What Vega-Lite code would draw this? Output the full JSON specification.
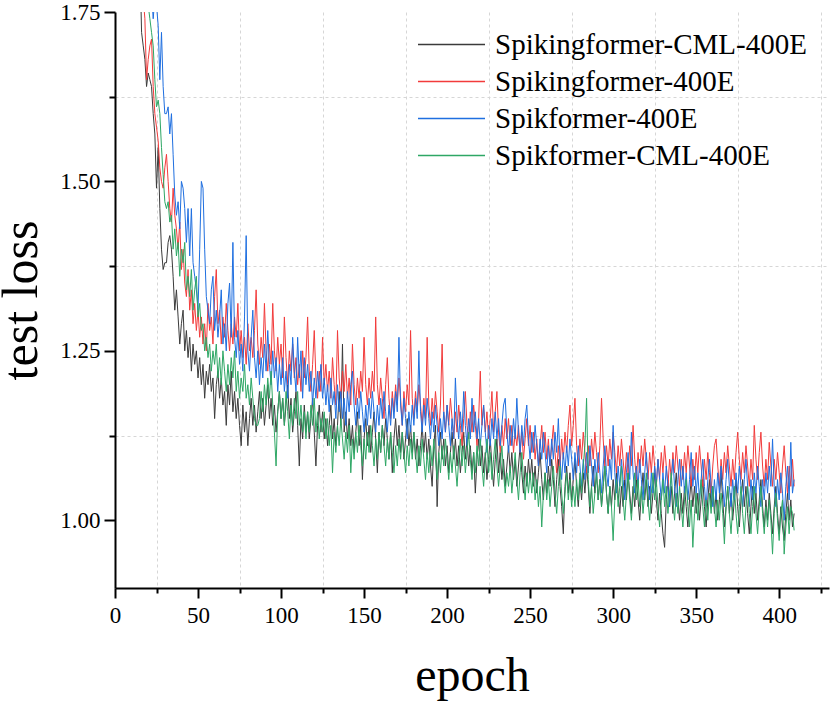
{
"$schema":"https://vega.github.io/schema/vega-lite/v6.json",
"width":714,"height":576,
"autosize":{"type":"none"},
"padding":{"left":115,"top":12,"right":4,"bottom":115},
"background":"white",
"config":{"view":{"stroke":null},"font":"Liberation Serif",
"axis":{"labelFont":"Liberation Serif","labelFontSize":23,"labelColor":"black","titleFont":"Liberation Serif","titleFontWeight":"normal","titleColor":"black"},
"legend":{"labelFont":"Liberation Serif","labelFontSize":29,"labelColor":"black"}},
"datasets":{"names":[{"key":"k","name":"Spikingformer-CML-400E"},{"key":"r","name":"Spikingformer-400E"},{"key":"b","name":"Spikformer-400E"},{"key":"g","name":"Spikformer-CML-400E"}]},
"data":{"values":[
{"e":12,"k":1.95,"r":2.0,"b":2.05,"g":2.0},
{"e":13,"k":1.9,"r":1.95,"b":2.0,"g":1.96},
{"e":14,"k":1.88,"r":1.9,"b":1.98,"g":1.93},
{"e":15,"k":1.83,"r":1.88,"b":1.95,"g":1.9},
{"e":16,"k":1.72,"r":1.8,"b":1.92,"g":1.86},
{"e":17,"k":1.7,"r":1.77,"b":1.9,"g":1.83},
{"e":18,"k":1.68,"r":1.74,"b":1.88,"g":1.8},
{"e":19,"k":1.64,"r":1.65,"b":1.85,"g":1.78},
{"e":20,"k":1.66,"r":1.68,"b":1.8,"g":1.76},
{"e":21,"k":1.65,"r":1.7,"b":1.76,"g":1.74},
{"e":22,"k":1.64,"r":1.71,"b":1.78,"g":1.72},
{"e":23,"k":1.6,"r":1.64,"b":1.74,"g":1.7},
{"e":24,"k":1.57,"r":1.6,"b":1.77,"g":1.65},
{"e":25,"k":1.49,"r":1.58,"b":1.76,"g":1.61},
{"e":26,"k":1.55,"r":1.56,"b":1.73,"g":1.62},
{"e":27,"k":1.46,"r":1.52,"b":1.65,"g":1.6},
{"e":28,"k":1.4,"r":1.5,"b":1.72,"g":1.55},
{"e":29,"k":1.37,"r":1.49,"b":1.64,"g":1.51},
{"e":30,"k":1.38,"r":1.52,"b":1.6,"g":1.47},
{"e":31,"k":1.38,"r":1.54,"b":1.6,"g":1.46},
{"e":32,"k":1.41,"r":1.5,"b":1.61,"g":1.47},
{"e":33,"k":1.42,"r":1.46,"b":1.57,"g":1.44},
{"e":34,"k":1.4,"r":1.44,"b":1.6,"g":1.45},
{"e":35,"k":1.36,"r":1.49,"b":1.54,"g":1.4},
{"e":36,"k":1.31,"r":1.45,"b":1.48,"g":1.43},
{"e":37,"k":1.34,"r":1.43,"b":1.45,"g":1.39},
{"e":38,"k":1.3,"r":1.4,"b":1.47,"g":1.41},
{"e":39,"k":1.26,"r":1.44,"b":1.43,"g":1.36},
{"e":40,"k":1.29,"r":1.37,"b":1.5,"g":1.4},
{"e":41,"k":1.31,"r":1.4,"b":1.49,"g":1.38},
{"e":42,"k":1.25,"r":1.35,"b":1.46,"g":1.41},
{"e":43,"k":1.28,"r":1.33,"b":1.41,"g":1.34},
{"e":44,"k":1.24,"r":1.37,"b":1.46,"g":1.36},
{"e":45,"k":1.27,"r":1.31,"b":1.39,"g":1.33},
{"e":46,"k":1.22,"r":1.34,"b":1.46,"g":1.37},
{"e":47,"k":1.26,"r":1.29,"b":1.38,"g":1.31},
{"e":48,"k":1.23,"r":1.32,"b":1.36,"g":1.34},
{"e":49,"k":1.25,"r":1.28,"b":1.34,"g":1.36},
{"e":50,"k":1.21,"r":1.31,"b":1.31,"g":1.3},
{"e":51,"k":1.24,"r":1.27,"b":1.4,"g":1.32},
{"e":52,"k":1.2,"r":1.3,"b":1.5,"g":1.28},
{"e":53,"k":1.23,"r":1.26,"b":1.49,"g":1.29},
{"e":54,"k":1.18,"r":1.29,"b":1.4,"g":1.25},
{"e":55,"k":1.22,"r":1.25,"b":1.33,"g":1.27},
{"e":56,"k":1.2,"r":1.32,"b":1.31,"g":1.24},
{"e":57,"k":1.23,"r":1.28,"b":1.29,"g":1.26},
{"e":58,"k":1.19,"r":1.3,"b":1.34,"g":1.22},
{"e":59,"k":1.21,"r":1.26,"b":1.36,"g":1.25},
{"e":60,"k":1.15,"r":1.33,"b":1.28,"g":1.23},
{"e":61,"k":1.2,"r":1.37,"b":1.31,"g":1.26},
{"e":62,"k":1.22,"r":1.29,"b":1.27,"g":1.21},
{"e":63,"k":1.18,"r":1.31,"b":1.3,"g":1.24},
{"e":64,"k":1.21,"r":1.26,"b":1.34,"g":1.2},
{"e":65,"k":1.17,"r":1.3,"b":1.26,"g":1.25},
{"e":66,"k":1.19,"r":1.27,"b":1.29,"g":1.22},
{"e":67,"k":1.14,"r":1.32,"b":1.25,"g":1.19},
{"e":68,"k":1.2,"r":1.28,"b":1.32,"g":1.23},
{"e":69,"k":1.17,"r":1.25,"b":1.35,"g":1.2},
{"e":70,"k":1.22,"r":1.29,"b":1.27,"g":1.24},
{"e":71,"k":1.16,"r":1.26,"b":1.41,"g":1.21},
{"e":72,"k":1.19,"r":1.3,"b":1.27,"g":1.25},
{"e":73,"k":1.15,"r":1.27,"b":1.24,"g":1.19},
{"e":74,"k":1.18,"r":1.32,"b":1.28,"g":1.22},
{"e":75,"k":1.14,"r":1.25,"b":1.23,"g":1.18},
{"e":76,"k":1.11,"r":1.28,"b":1.26,"g":1.21},
{"e":77,"k":1.17,"r":1.24,"b":1.22,"g":1.19},
{"e":78,"k":1.13,"r":1.27,"b":1.3,"g":1.23},
{"e":79,"k":1.16,"r":1.23,"b":1.42,"g":1.18},
{"e":80,"k":1.11,"r":1.29,"b":1.25,"g":1.2},
{"e":81,"k":1.15,"r":1.25,"b":1.22,"g":1.17},
{"e":82,"k":1.18,"r":1.27,"b":1.27,"g":1.21},
{"e":83,"k":1.14,"r":1.24,"b":1.31,"g":1.18},
{"e":84,"k":1.17,"r":1.28,"b":1.24,"g":1.15},
{"e":85,"k":1.13,"r":1.34,"b":1.21,"g":1.14},
{"e":86,"k":1.16,"r":1.26,"b":1.25,"g":1.14},
{"e":87,"k":1.19,"r":1.23,"b":1.2,"g":1.15},
{"e":88,"k":1.15,"r":1.27,"b":1.24,"g":1.19},
{"e":89,"k":1.18,"r":1.24,"b":1.21,"g":1.16},
{"e":90,"k":1.14,"r":1.32,"b":1.26,"g":1.2},
{"e":91,"k":1.17,"r":1.25,"b":1.22,"g":1.17},
{"e":92,"k":1.2,"r":1.22,"b":1.28,"g":1.21},
{"e":93,"k":1.15,"r":1.26,"b":1.23,"g":1.18},
{"e":94,"k":1.18,"r":1.23,"b":1.2,"g":1.22},
{"e":95,"k":1.14,"r":1.32,"b":1.25,"g":1.17},
{"e":96,"k":1.17,"r":1.25,"b":1.21,"g":1.13},
{"e":97,"k":1.13,"r":1.22,"b":1.24,"g":1.08},
{"e":98,"k":1.16,"r":1.27,"b":1.19,"g":1.16},
{"e":99,"k":1.19,"r":1.23,"b":1.23,"g":1.19},
{"e":100,"k":1.15,"r":1.26,"b":1.2,"g":1.15},
{"e":101,"k":1.18,"r":1.21,"b":1.24,"g":1.18},
{"e":102,"k":1.14,"r":1.3,"b":1.19,"g":1.14},
{"e":103,"k":1.17,"r":1.24,"b":1.22,"g":1.19},
{"e":104,"k":1.2,"r":1.2,"b":1.18,"g":1.16},
{"e":105,"k":1.15,"r":1.25,"b":1.23,"g":1.12},
{"e":106,"k":1.18,"r":1.22,"b":1.2,"g":1.17},
{"e":107,"k":1.13,"r":1.26,"b":1.27,"g":1.14},
{"e":108,"k":1.16,"r":1.21,"b":1.22,"g":1.18},
{"e":109,"k":1.19,"r":1.24,"b":1.19,"g":1.15},
{"e":110,"k":1.14,"r":1.2,"b":1.27,"g":1.19},
{"e":111,"k":1.08,"r":1.23,"b":1.21,"g":1.14},
{"e":112,"k":1.15,"r":1.19,"b":1.25,"g":1.17},
{"e":113,"k":1.12,"r":1.25,"b":1.18,"g":1.13},
{"e":114,"k":1.17,"r":1.21,"b":1.24,"g":1.16},
{"e":115,"k":1.13,"r":1.24,"b":1.2,"g":1.12},
{"e":116,"k":1.16,"r":1.3,"b":1.23,"g":1.16},
{"e":117,"k":1.12,"r":1.22,"b":1.19,"g":1.13},
{"e":118,"k":1.15,"r":1.19,"b":1.22,"g":1.17},
{"e":119,"k":1.18,"r":1.23,"b":1.17,"g":1.14},
{"e":120,"k":1.13,"r":1.28,"b":1.21,"g":1.18},
{"e":121,"k":1.08,"r":1.21,"b":1.18,"g":1.13},
{"e":122,"k":1.14,"r":1.18,"b":1.22,"g":1.16},
{"e":123,"k":1.17,"r":1.22,"b":1.19,"g":1.12},
{"e":124,"k":1.13,"r":1.19,"b":1.23,"g":1.15},
{"e":125,"k":1.16,"r":1.27,"b":1.18,"g":1.13},
{"e":126,"k":1.12,"r":1.2,"b":1.21,"g":1.16},
{"e":127,"k":1.15,"r":1.23,"b":1.17,"g":1.12},
{"e":128,"k":1.11,"r":1.19,"b":1.2,"g":1.15},
{"e":129,"k":1.14,"r":1.22,"b":1.16,"g":1.11},
{"e":130,"k":1.17,"r":1.18,"b":1.21,"g":1.14},
{"e":131,"k":1.12,"r":1.24,"b":1.17,"g":1.07},
{"e":132,"k":1.15,"r":1.2,"b":1.19,"g":1.13},
{"e":133,"k":1.11,"r":1.17,"b":1.15,"g":1.1},
{"e":134,"k":1.14,"r":1.28,"b":1.2,"g":1.14},
{"e":135,"k":1.19,"r":1.21,"b":1.16,"g":1.11},
{"e":136,"k":1.14,"r":1.18,"b":1.19,"g":1.15},
{"e":137,"k":1.26,"r":1.22,"b":1.15,"g":1.12},
{"e":138,"k":1.13,"r":1.19,"b":1.18,"g":1.09},
{"e":139,"k":1.16,"r":1.23,"b":1.14,"g":1.13},
{"e":140,"k":1.12,"r":1.18,"b":1.19,"g":1.1},
{"e":141,"k":1.15,"r":1.21,"b":1.16,"g":1.14},
{"e":142,"k":1.11,"r":1.17,"b":1.2,"g":1.07},
{"e":143,"k":1.14,"r":1.26,"b":1.22,"g":1.12},
{"e":144,"k":1.1,"r":1.2,"b":1.17,"g":1.09},
{"e":145,"k":1.13,"r":1.17,"b":1.14,"g":1.13},
{"e":146,"k":1.16,"r":1.21,"b":1.18,"g":1.1},
{"e":147,"k":1.11,"r":1.18,"b":1.15,"g":1.14},
{"e":148,"k":1.14,"r":1.22,"b":1.19,"g":1.11},
{"e":149,"k":1.06,"r":1.19,"b":1.16,"g":1.08},
{"e":150,"k":1.12,"r":1.27,"b":1.13,"g":1.12},
{"e":151,"k":1.15,"r":1.2,"b":1.17,"g":1.09},
{"e":152,"k":1.11,"r":1.17,"b":1.14,"g":1.13},
{"e":153,"k":1.14,"r":1.21,"b":1.18,"g":1.1},
{"e":154,"k":1.1,"r":1.18,"b":1.15,"g":1.14},
{"e":155,"k":1.13,"r":1.22,"b":1.19,"g":1.11},
{"e":156,"k":1.16,"r":1.19,"b":1.16,"g":1.08},
{"e":157,"k":1.12,"r":1.3,"b":1.13,"g":1.12},
{"e":158,"k":1.07,"r":1.2,"b":1.17,"g":1.09},
{"e":159,"k":1.13,"r":1.17,"b":1.14,"g":1.13},
{"e":160,"k":1.1,"r":1.21,"b":1.18,"g":1.1},
{"e":161,"k":1.14,"r":1.18,"b":1.15,"g":1.14},
{"e":162,"k":1.11,"r":1.15,"b":1.19,"g":1.11},
{"e":163,"k":1.15,"r":1.2,"b":1.16,"g":1.08},
{"e":164,"k":1.12,"r":1.24,"b":1.13,"g":1.12},
{"e":165,"k":1.09,"r":1.18,"b":1.17,"g":1.09},
{"e":166,"k":1.13,"r":1.15,"b":1.14,"g":1.13},
{"e":167,"k":1.07,"r":1.19,"b":1.18,"g":1.1},
{"e":168,"k":1.12,"r":1.16,"b":1.15,"g":1.07},
{"e":169,"k":1.15,"r":1.2,"b":1.19,"g":1.11},
{"e":170,"k":1.11,"r":1.17,"b":1.16,"g":1.08},
{"e":171,"k":1.14,"r":1.21,"b":1.27,"g":1.12},
{"e":172,"k":1.1,"r":1.18,"b":1.17,"g":1.09},
{"e":173,"k":1.13,"r":1.14,"b":1.14,"g":1.13},
{"e":174,"k":1.09,"r":1.19,"b":1.18,"g":1.1},
{"e":175,"k":1.12,"r":1.16,"b":1.15,"g":1.07},
{"e":176,"k":1.15,"r":1.2,"b":1.12,"g":1.11},
{"e":177,"k":1.11,"r":1.17,"b":1.16,"g":1.08},
{"e":178,"k":1.14,"r":1.28,"b":1.13,"g":1.12},
{"e":179,"k":1.1,"r":1.18,"b":1.17,"g":1.09},
{"e":180,"k":1.13,"r":1.15,"b":1.14,"g":1.13},
{"e":181,"k":1.09,"r":1.19,"b":1.18,"g":1.1},
{"e":182,"k":1.12,"r":1.16,"b":1.15,"g":1.07},
{"e":183,"k":1.08,"r":1.2,"b":1.25,"g":1.11},
{"e":184,"k":1.11,"r":1.17,"b":1.16,"g":1.08},
{"e":185,"k":1.14,"r":1.14,"b":1.13,"g":1.12},
{"e":186,"k":1.1,"r":1.18,"b":1.17,"g":1.09},
{"e":187,"k":1.13,"r":1.15,"b":1.14,"g":1.06},
{"e":188,"k":1.09,"r":1.27,"b":1.18,"g":1.1},
{"e":189,"k":1.12,"r":1.17,"b":1.15,"g":1.07},
{"e":190,"k":1.08,"r":1.14,"b":1.12,"g":1.11},
{"e":191,"k":1.05,"r":1.18,"b":1.16,"g":1.08},
{"e":192,"k":1.11,"r":1.15,"b":1.13,"g":1.12},
{"e":193,"k":1.14,"r":1.19,"b":1.17,"g":1.09},
{"e":194,"k":1.02,"r":1.16,"b":1.14,"g":1.06},
{"e":195,"k":1.1,"r":1.13,"b":1.11,"g":1.1},
{"e":196,"k":1.13,"r":1.17,"b":1.15,"g":1.07},
{"e":197,"k":1.09,"r":1.26,"b":1.12,"g":1.11},
{"e":198,"k":1.12,"r":1.16,"b":1.16,"g":1.08},
{"e":199,"k":1.08,"r":1.13,"b":1.13,"g":1.12},
{"e":200,"k":1.11,"r":1.17,"b":1.17,"g":1.09},
{"e":201,"k":1.07,"r":1.14,"b":1.14,"g":1.06},
{"e":202,"k":1.1,"r":1.18,"b":1.11,"g":1.1},
{"e":203,"k":1.13,"r":1.15,"b":1.15,"g":1.07},
{"e":204,"k":1.09,"r":1.12,"b":1.12,"g":1.11},
{"e":205,"k":1.12,"r":1.16,"b":1.21,"g":1.08},
{"e":206,"k":1.08,"r":1.13,"b":1.15,"g":1.05},
{"e":207,"k":1.11,"r":1.17,"b":1.12,"g":1.09},
{"e":208,"k":1.07,"r":1.14,"b":1.16,"g":1.12},
{"e":209,"k":1.1,"r":1.11,"b":1.13,"g":1.08},
{"e":210,"k":1.13,"r":1.15,"b":1.19,"g":1.11},
{"e":211,"k":1.09,"r":1.19,"b":1.14,"g":1.07},
{"e":212,"k":1.12,"r":1.14,"b":1.11,"g":1.1},
{"e":213,"k":1.08,"r":1.12,"b":1.15,"g":1.13},
{"e":214,"k":1.11,"r":1.16,"b":1.12,"g":1.09},
{"e":215,"k":1.07,"r":1.13,"b":1.18,"g":1.06},
{"e":216,"k":1.1,"r":1.17,"b":1.13,"g":1.1},
{"e":217,"k":1.04,"r":1.14,"b":1.16,"g":1.07},
{"e":218,"k":1.09,"r":1.11,"b":1.12,"g":1.11},
{"e":219,"k":1.12,"r":1.15,"b":1.15,"g":1.08},
{"e":220,"k":1.08,"r":1.22,"b":1.11,"g":1.12},
{"e":221,"k":1.11,"r":1.14,"b":1.14,"g":1.08},
{"e":222,"k":1.07,"r":1.17,"b":1.17,"g":1.05},
{"e":223,"k":1.1,"r":1.13,"b":1.13,"g":1.09},
{"e":224,"k":1.06,"r":1.16,"b":1.1,"g":1.12},
{"e":225,"k":1.09,"r":1.12,"b":1.14,"g":1.07},
{"e":226,"k":1.12,"r":1.15,"b":1.11,"g":1.1},
{"e":227,"k":1.08,"r":1.19,"b":1.15,"g":1.06},
{"e":228,"k":1.05,"r":1.13,"b":1.12,"g":1.09},
{"e":229,"k":1.09,"r":1.16,"b":1.16,"g":1.12},
{"e":230,"k":1.12,"r":1.19,"b":1.12,"g":1.08},
{"e":231,"k":1.07,"r":1.13,"b":1.15,"g":1.05},
{"e":232,"k":1.1,"r":1.1,"b":1.11,"g":1.08},
{"e":233,"k":1.06,"r":1.14,"b":1.14,"g":1.11},
{"e":234,"k":1.09,"r":1.11,"b":1.17,"g":1.07},
{"e":235,"k":1.05,"r":1.15,"b":1.18,"g":1.04},
{"e":236,"k":1.08,"r":1.12,"b":1.13,"g":1.07},
{"e":237,"k":1.11,"r":1.15,"b":1.1,"g":1.05},
{"e":238,"k":1.07,"r":1.11,"b":1.14,"g":1.08},
{"e":239,"k":1.1,"r":1.14,"b":1.11,"g":1.04},
{"e":240,"k":1.06,"r":1.1,"b":1.15,"g":1.07},
{"e":241,"k":1.09,"r":1.13,"b":1.12,"g":1.1},
{"e":242,"k":1.05,"r":1.11,"b":1.18,"g":1.06},
{"e":243,"k":1.08,"r":1.14,"b":1.13,"g":1.03},
{"e":244,"k":1.11,"r":1.1,"b":1.1,"g":1.07},
{"e":245,"k":1.07,"r":1.13,"b":1.14,"g":1.1},
{"e":246,"k":1.04,"r":1.09,"b":1.11,"g":1.06},
{"e":247,"k":1.08,"r":1.12,"b":1.15,"g":1.03},
{"e":248,"k":1.05,"r":1.15,"b":1.17,"g":1.07},
{"e":249,"k":1.09,"r":1.11,"b":1.12,"g":1.04},
{"e":250,"k":1.06,"r":1.14,"b":1.09,"g":1.07},
{"e":251,"k":1.09,"r":1.1,"b":1.13,"g":1.04},
{"e":252,"k":1.05,"r":1.13,"b":1.1,"g":1.07},
{"e":253,"k":1.08,"r":1.09,"b":1.14,"g":1.03},
{"e":254,"k":1.04,"r":1.12,"b":1.11,"g":1.06},
{"e":255,"k":1.07,"r":1.08,"b":1.08,"g":1.02},
{"e":256,"k":1.1,"r":1.11,"b":1.12,"g":1.05},
{"e":257,"k":1.06,"r":1.14,"b":1.09,"g":0.99},
{"e":258,"k":1.03,"r":1.1,"b":1.13,"g":1.04},
{"e":259,"k":1.07,"r":1.13,"b":1.1,"g":1.07},
{"e":260,"k":1.04,"r":1.09,"b":1.07,"g":1.03},
{"e":261,"k":1.08,"r":1.12,"b":1.11,"g":1.06},
{"e":262,"k":1.05,"r":1.08,"b":1.08,"g":1.02},
{"e":263,"k":1.09,"r":1.11,"b":1.12,"g":1.05},
{"e":264,"k":1.06,"r":1.14,"b":1.09,"g":1.08},
{"e":265,"k":1.02,"r":1.1,"b":1.13,"g":1.04},
{"e":266,"k":1.06,"r":1.07,"b":1.1,"g":1.01},
{"e":267,"k":1.09,"r":1.11,"b":1.15,"g":1.05},
{"e":268,"k":1.05,"r":1.08,"b":1.09,"g":1.08},
{"e":269,"k":1.02,"r":1.12,"b":1.06,"g":1.04},
{"e":270,"k":0.98,"r":1.09,"b":1.1,"g":1.01},
{"e":271,"k":1.05,"r":1.13,"b":1.07,"g":1.04},
{"e":272,"k":1.08,"r":1.1,"b":1.11,"g":1.07},
{"e":273,"k":1.04,"r":1.14,"b":1.08,"g":1.03},
{"e":274,"k":1.07,"r":1.17,"b":1.12,"g":1.06},
{"e":275,"k":1.03,"r":1.11,"b":1.09,"g":1.02},
{"e":276,"k":1.06,"r":1.14,"b":1.06,"g":1.05},
{"e":277,"k":1.09,"r":1.18,"b":1.1,"g":1.02},
{"e":278,"k":1.05,"r":1.11,"b":1.07,"g":1.06},
{"e":279,"k":1.02,"r":1.08,"b":1.11,"g":1.03},
{"e":280,"k":1.06,"r":1.12,"b":1.08,"g":1.07},
{"e":281,"k":1.03,"r":1.09,"b":1.05,"g":1.04},
{"e":282,"k":1.07,"r":1.13,"b":1.09,"g":1.08},
{"e":283,"k":1.04,"r":1.1,"b":1.06,"g":1.11},
{"e":284,"k":1.08,"r":1.07,"b":1.1,"g":1.18},
{"e":285,"k":1.05,"r":1.11,"b":1.07,"g":1.06},
{"e":286,"k":1.01,"r":1.08,"b":1.11,"g":1.02},
{"e":287,"k":1.05,"r":1.12,"b":1.08,"g":1.05},
{"e":288,"k":1.08,"r":1.09,"b":1.05,"g":1.01},
{"e":289,"k":1.04,"r":1.13,"b":1.09,"g":1.04},
{"e":290,"k":1.07,"r":1.1,"b":1.06,"g":1.07},
{"e":291,"k":1.03,"r":1.07,"b":1.1,"g":1.03},
{"e":292,"k":1.06,"r":1.11,"b":1.07,"g":1.06},
{"e":293,"k":1.02,"r":1.18,"b":1.04,"g":1.02},
{"e":294,"k":1.05,"r":1.12,"b":1.08,"g":1.05},
{"e":295,"k":1.08,"r":1.08,"b":1.11,"g":1.08},
{"e":296,"k":1.04,"r":1.11,"b":1.07,"g":1.04},
{"e":297,"k":1.01,"r":1.08,"b":1.05,"g":1.01},
{"e":298,"k":1.05,"r":1.12,"b":1.09,"g":1.05},
{"e":299,"k":1.02,"r":1.09,"b":1.06,"g":1.02},
{"e":300,"k":1.06,"r":1.13,"b":1.14,"g":0.97},
{"e":301,"k":1.03,"r":1.1,"b":1.07,"g":1.03},
{"e":302,"k":1.07,"r":1.07,"b":1.04,"g":1.06},
{"e":303,"k":1.04,"r":1.11,"b":1.08,"g":1.02},
{"e":304,"k":1.01,"r":1.08,"b":1.05,"g":1.05},
{"e":305,"k":1.05,"r":1.12,"b":1.09,"g":1.08},
{"e":306,"k":1.02,"r":1.09,"b":1.06,"g":1.03},
{"e":307,"k":1.06,"r":1.06,"b":1.03,"g":1.0},
{"e":308,"k":1.03,"r":1.1,"b":1.07,"g":1.04},
{"e":309,"k":1.07,"r":1.07,"b":1.1,"g":1.07},
{"e":310,"k":1.04,"r":1.11,"b":1.06,"g":1.03},
{"e":311,"k":1.01,"r":1.08,"b":1.13,"g":1.0},
{"e":312,"k":1.05,"r":1.14,"b":1.07,"g":1.04},
{"e":313,"k":1.02,"r":1.09,"b":1.04,"g":1.07},
{"e":314,"k":1.06,"r":1.06,"b":1.08,"g":1.03},
{"e":315,"k":1.03,"r":1.1,"b":1.05,"g":1.06},
{"e":316,"k":1.0,"r":1.07,"b":1.09,"g":1.02},
{"e":317,"k":1.04,"r":1.11,"b":1.06,"g":1.05},
{"e":318,"k":1.07,"r":1.08,"b":1.03,"g":1.01},
{"e":319,"k":1.03,"r":1.12,"b":1.07,"g":1.04},
{"e":320,"k":1.06,"r":1.09,"b":1.1,"g":1.07},
{"e":321,"k":1.02,"r":1.06,"b":1.06,"g":1.03},
{"e":322,"k":1.05,"r":1.1,"b":1.03,"g":1.0},
{"e":323,"k":1.01,"r":1.07,"b":1.07,"g":1.04},
{"e":324,"k":1.04,"r":1.11,"b":1.04,"g":1.07},
{"e":325,"k":1.07,"r":1.08,"b":1.08,"g":1.03},
{"e":326,"k":1.03,"r":1.05,"b":1.05,"g":1.06},
{"e":327,"k":1.0,"r":1.09,"b":1.09,"g":1.02},
{"e":328,"k":1.04,"r":1.06,"b":1.06,"g":0.99},
{"e":329,"k":1.01,"r":1.1,"b":1.03,"g":1.03},
{"e":330,"k":0.98,"r":1.07,"b":1.07,"g":1.06},
{"e":331,"k":0.96,"r":1.11,"b":1.04,"g":1.02},
{"e":332,"k":1.03,"r":1.08,"b":1.08,"g":1.05},
{"e":333,"k":1.06,"r":1.05,"b":1.05,"g":1.01},
{"e":334,"k":1.02,"r":1.09,"b":1.02,"g":1.04},
{"e":335,"k":1.05,"r":1.06,"b":1.06,"g":1.07},
{"e":336,"k":1.01,"r":1.1,"b":1.09,"g":1.03},
{"e":337,"k":1.04,"r":1.07,"b":1.05,"g":1.0},
{"e":338,"k":1.07,"r":1.11,"b":1.02,"g":1.04},
{"e":339,"k":1.03,"r":1.08,"b":1.06,"g":1.01},
{"e":340,"k":1.0,"r":1.05,"b":1.09,"g":1.05},
{"e":341,"k":1.04,"r":1.09,"b":1.05,"g":1.02},
{"e":342,"k":1.01,"r":1.06,"b":1.08,"g":0.99},
{"e":343,"k":1.05,"r":1.1,"b":1.04,"g":1.03},
{"e":344,"k":1.02,"r":1.07,"b":1.07,"g":1.06},
{"e":345,"k":0.99,"r":1.11,"b":1.03,"g":1.02},
{"e":346,"k":1.03,"r":1.08,"b":1.06,"g":0.99},
{"e":347,"k":1.06,"r":1.05,"b":1.1,"g":1.03},
{"e":348,"k":1.02,"r":1.09,"b":1.05,"g":0.96},
{"e":349,"k":1.05,"r":1.06,"b":1.08,"g":1.01},
{"e":350,"k":1.01,"r":1.1,"b":1.04,"g":1.04},
{"e":351,"k":1.04,"r":1.07,"b":1.07,"g":1.0},
{"e":352,"k":1.0,"r":1.11,"b":1.03,"g":1.03},
{"e":353,"k":1.03,"r":1.08,"b":1.06,"g":1.06},
{"e":354,"k":1.06,"r":1.05,"b":1.09,"g":1.02},
{"e":355,"k":1.02,"r":1.09,"b":1.05,"g":0.99},
{"e":356,"k":0.99,"r":1.06,"b":1.02,"g":1.03},
{"e":357,"k":1.03,"r":1.1,"b":1.06,"g":1.0},
{"e":358,"k":1.06,"r":1.07,"b":1.09,"g":1.04},
{"e":359,"k":1.02,"r":1.04,"b":1.05,"g":1.01},
{"e":360,"k":1.05,"r":1.08,"b":1.02,"g":1.05},
{"e":361,"k":1.01,"r":1.11,"b":1.06,"g":1.02},
{"e":362,"k":1.04,"r":1.12,"b":1.03,"g":0.99},
{"e":363,"k":1.0,"r":1.08,"b":1.07,"g":1.03},
{"e":364,"k":1.03,"r":1.05,"b":1.04,"g":1.0},
{"e":365,"k":1.07,"r":1.09,"b":1.08,"g":1.04},
{"e":366,"k":1.03,"r":1.06,"b":1.05,"g":1.01},
{"e":367,"k":0.99,"r":1.1,"b":1.02,"g":0.965},
{"e":368,"k":1.02,"r":1.07,"b":1.06,"g":1.02},
{"e":369,"k":1.05,"r":1.11,"b":1.09,"g":1.05},
{"e":370,"k":1.01,"r":1.08,"b":1.05,"g":1.01},
{"e":371,"k":1.04,"r":1.05,"b":1.02,"g":0.98},
{"e":372,"k":1.0,"r":1.09,"b":1.06,"g":1.02},
{"e":373,"k":1.03,"r":1.06,"b":1.03,"g":1.05},
{"e":374,"k":1.06,"r":1.1,"b":1.07,"g":1.01},
{"e":375,"k":1.02,"r":1.13,"b":1.04,"g":0.98},
{"e":376,"k":0.99,"r":1.09,"b":1.08,"g":1.02},
{"e":377,"k":1.03,"r":1.06,"b":1.05,"g":1.05},
{"e":378,"k":1.06,"r":1.1,"b":1.02,"g":1.01},
{"e":379,"k":1.02,"r":1.07,"b":1.06,"g":0.98},
{"e":380,"k":1.05,"r":1.11,"b":1.09,"g":1.02},
{"e":381,"k":1.01,"r":1.08,"b":1.05,"g":1.05},
{"e":382,"k":0.98,"r":1.05,"b":1.02,"g":1.01},
{"e":383,"k":1.02,"r":1.09,"b":1.06,"g":0.98},
{"e":384,"k":1.05,"r":1.06,"b":1.03,"g":1.02},
{"e":385,"k":1.01,"r":1.14,"b":1.07,"g":1.05},
{"e":386,"k":1.04,"r":1.09,"b":1.04,"g":1.01},
{"e":387,"k":1.0,"r":1.06,"b":1.08,"g":0.98},
{"e":388,"k":1.03,"r":1.1,"b":1.05,"g":1.02},
{"e":389,"k":1.06,"r":1.13,"b":1.02,"g":1.05},
{"e":390,"k":1.02,"r":1.08,"b":1.06,"g":1.01},
{"e":391,"k":0.99,"r":1.05,"b":1.03,"g":0.98},
{"e":392,"k":1.03,"r":1.09,"b":1.07,"g":1.02},
{"e":393,"k":1.0,"r":1.06,"b":1.04,"g":0.99},
{"e":394,"k":1.04,"r":1.115,"b":1.08,"g":1.03},
{"e":395,"k":1.01,"r":1.08,"b":1.05,"g":1.0},
{"e":396,"k":0.98,"r":1.05,"b":1.12,"g":0.95},
{"e":397,"k":1.02,"r":1.09,"b":1.05,"g":1.01},
{"e":398,"k":1.05,"r":1.06,"b":1.02,"g":1.04},
{"e":399,"k":1.01,"r":1.1,"b":1.06,"g":1.0},
{"e":400,"k":0.98,"r":1.07,"b":1.03,"g":0.97},
{"e":401,"k":1.02,"r":1.04,"b":1.07,"g":1.01},
{"e":402,"k":0.99,"r":1.08,"b":1.04,"g":1.03},
{"e":403,"k":0.97,"r":1.11,"b":1.0,"g":0.95},
{"e":404,"k":1.01,"r":1.07,"b":1.05,"g":0.99},
{"e":405,"k":1.04,"r":1.04,"b":1.08,"g":1.02},
{"e":406,"k":1.0,"r":1.08,"b":1.03,"g":0.98},
{"e":407,"k":1.03,"r":1.05,"b":1.115,"g":1.02},
{"e":408,"k":0.99,"r":1.09,"b":1.04,"g":1.01},
{"e":409,"k":1.01,"r":1.05,"b":1.06,"g":0.985}
]},
"transform":[
{"fold":["k","r","b","g"],"as":["key","loss"]},
{"lookup":"key","from":{"data":{"name":"names"},"key":"key","fields":["name"]}}
],
"mark":{"type":"line","strokeWidth":1,"clip":true},
"encoding":{
"x":{"field":"e","type":"quantitative","scale":{"domain":[0,430],"nice":false,"zero":false},
"axis":{"values":[0,25,50,75,100,125,150,175,200,225,250,275,300,325,350,375,400,425],
"labelExpr":"datum.value % 50 == 0 ? datum.label : ''",
"labelFont":"Liberation Serif","labelFontSize":23,"labelColor":"black","labelPadding":6,"labelFlush":false,
"tickColor":"black","tickWidth":2,
"tickSize":{"condition":{"test":"datum.value % 50 == 0","value":10},"value":5},
"domainColor":"black","domainWidth":2,
"grid":true,"gridColor":"#d6d6d6","gridDash":[3,3],"gridWidth":1,
"gridOpacity":{"condition":{"test":"datum.value % 50 == 0","value":0},"value":1},
"title":"epoch","titleFont":"Liberation Serif","titleFontSize":48,"titleFontWeight":"normal","titleColor":"black",
"titleBaseline":"alphabetic","titleY":102}},
"y":{"field":"loss","type":"quantitative","scale":{"domain":[0.9,1.75],"nice":false,"zero":false},
"axis":{"values":[1,1.125,1.25,1.375,1.5,1.625,1.75],"format":".2f",
"labelExpr":"(datum.value * 4) % 1 == 0 ? datum.label : ''",
"labelFont":"Liberation Serif","labelFontSize":23,"labelColor":"black","labelPadding":4,
"tickColor":"black","tickWidth":2,
"tickSize":{"condition":{"test":"(datum.value * 4) % 1 == 0","value":11},"value":6},
"domainColor":"black","domainWidth":2,
"grid":true,"gridColor":"#d6d6d6","gridDash":[3,3],"gridWidth":1,
"gridOpacity":{"condition":{"test":"(datum.value * 4) % 1 == 0","value":0},"value":1},
"title":"test loss","titleFont":"Liberation Serif","titleFontSize":50,"titleFontWeight":"normal","titleColor":"black",
"titleBaseline":"alphabetic","titleX":-79}},
"color":{"field":"name","type":"nominal",
"scale":{"domain":["Spikingformer-CML-400E","Spikingformer-400E","Spikformer-400E","Spikformer-CML-400E"],"range":["#3b3b3b","#f23b3b","#1f6fe0","#2ea765"]},
"legend":{"orient":"none","legendX":322,"legendY":18,"title":null,"padding":0,
"symbolType":"M-3.35,0H3.35","symbolSize":400,"symbolStrokeWidth":1.3,
"labelFont":"Liberation Serif","labelFontSize":29,"labelColor":"black","labelOffset":29,"rowPadding":7,"labelLimit":400}}
}
}
